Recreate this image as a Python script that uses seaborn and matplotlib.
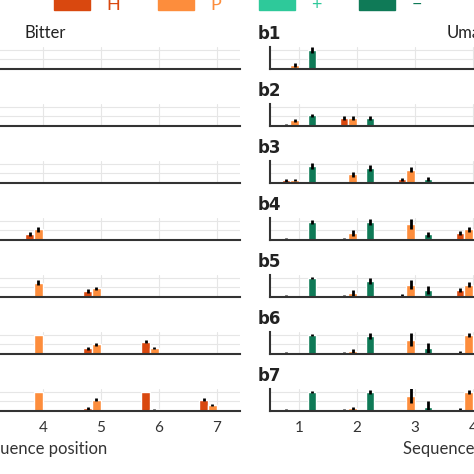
import numpy as np
import pandas as pd
import seaborn as sns
import matplotlib.pyplot as plt
from matplotlib.patches import Patch

sns.set_style("white")
plt.rcParams['font.family'] = ['Lato', 'DejaVu Sans']

types = ["H", "P", "+", "\u2212"]
colors = ["#d9480f", "#fd8d3c", "#2ec99a", "#0f7a57"]
positions = [1, 2, 3, 4, 5, 6, 7]
rows = ["b1", "b2", "b3", "b4", "b5", "b6", "b7"]

# bitter means [row][position][type]  (only positions 4..7 visible)
bitter_mean = {
    "b4": {4: [0.30, 0.55, 0, 0]},
    "b5": {4: [0.02, 0.75, 0, 0], 5: [0.30, 0.45, 0, 0.02]},
    "b6": {4: [0, 1.0, 0, 0], 5: [0.30, 0.50, 0, 0], 6: [0.65, 0.30, 0, 0]},
    "b7": {4: [0, 1.0, 0, 0], 5: [0.15, 0.60, 0, 0], 6: [1.0, 0.08, 0, 0], 7: [0.60, 0.30, 0, 0]},
}
bitter_err = {
    "b4": {4: [0.10, 0.12, 0, 0]},
    "b5": {4: [0.04, 0.12, 0, 0], 5: [0.10, 0.08, 0, 0.03]},
    "b6": {4: [0, 0, 0, 0], 5: [0.08, 0.08, 0, 0], 6: [0.08, 0.05, 0, 0]},
    "b7": {4: [0, 0, 0, 0], 5: [0.08, 0.10, 0, 0], 6: [0, 0.03, 0, 0], 7: [0.08, 0.05, 0, 0]},
}
umami_mean = {
    "b1": {1: [0, 0.22, 0, 1.0]},
    "b2": {1: [0.08, 0.30, 0, 0.55], 2: [0.40, 0.40, 0, 0.40]},
    "b3": {1: [0.15, 0.15, 0, 0.90], 2: [0, 0.45, 0, 0.80], 3: [0.20, 0.70, 0, 0.20]},
    "b4": {1: [0.08, 0.02, 0, 0.95], 2: [0.05, 0.35, 0, 0.95], 3: [0.02, 0.85, 0, 0.30], 4: [0.35, 0.55, 0, 0]},
    "b5": {1: [0.05, 0, 0, 1.0], 2: [0.05, 0.20, 0, 0.85], 3: [0.10, 0.65, 0, 0.35], 4: [0.35, 0.65, 0, 0]},
    "b6": {1: [0.05, 0, 0, 1.0], 2: [0.05, 0.15, 0, 0.95], 3: [0.02, 0.75, 0, 0.30], 4: [0.10, 1.0, 0, 0]},
    "b7": {1: [0.05, 0, 0, 1.0], 2: [0.05, 0.15, 0, 1.0], 3: [0.02, 0.80, 0, 0.20], 4: [0.10, 1.0, 0, 0]},
}
umami_err = {
    "b1": {1: [0, 0.10, 0, 0.15]},
    "b2": {1: [0.04, 0.08, 0, 0.10], 2: [0.10, 0.10, 0, 0.10]},
    "b3": {1: [0.08, 0.05, 0, 0.15], 2: [0, 0.15, 0, 0.15], 3: [0.08, 0.15, 0, 0.10]},
    "b4": {1: [0.04, 0.02, 0, 0.10], 2: [0.04, 0.15, 0, 0.15], 3: [0.02, 0.25, 0, 0.12], 4: [0.10, 0.15, 0, 0]},
    "b5": {1: [0.03, 0, 0, 0.05], 2: [0.03, 0.15, 0, 0.15], 3: [0.05, 0.25, 0, 0.20], 4: [0.10, 0.12, 0, 0]},
    "b6": {1: [0.03, 0, 0, 0.05], 2: [0.03, 0.10, 0, 0.15], 3: [0.02, 0.35, 0, 0.30], 4: [0.05, 0.10, 0, 0]},
    "b7": {1: [0.03, 0, 0, 0.05], 2: [0.03, 0.08, 0, 0.10], 3: [0.02, 0.40, 0, 0.30], 4: [0.05, 0.10, 0, 0]},
}


def make_df(mean, err, row):
    recs = []
    for p in positions:
        m = mean.get(row, {}).get(p, [0, 0, 0, 0])
        e = err.get(row, {}).get(p, [0, 0, 0, 0])
        for i, t in enumerate(types):
            recs.append(dict(pos=p, type=t, val=m[i], err=e[i]))
    return pd.DataFrame(recs)


W = H = 474
fig = plt.figure(figsize=(4.74, 4.74), dpi=100)
unit = 58
baselines = [69, 126, 183, 240, 297, 354, 411]
ax_h = 22
offsets = [-0.225, -0.075, 0.075, 0.225]


def draw(ax, df, show_left):
    sns.barplot(data=df, x="pos", y="val", hue="type", hue_order=types,
                palette=colors, width=0.6, errorbar=None, ax=ax, legend=False,
                saturation=1, order=positions)
    for i, t in enumerate(types):
        d = df[df.type == t]
        x = np.arange(len(positions)) + offsets[i]
        m = d.err.values > 0
        ax.errorbar(x[m], d.val.values[m], yerr=d.err.values[m], fmt="none",
                    ecolor="black", elinewidth=2, capsize=0)
    ax.set_xlim(-0.5, 6.4)
    ax.set_ylim(0, 1.15)
    ax.set_yticks([0, 0.5, 1])
    ax.set_yticklabels([])
    ax.set_xticks(range(len(positions)))
    ax.grid(True, color="#e6e6e6", lw=0.8)
    ax.set_axisbelow(True)
    for s in ["top", "right"]:
        ax.spines[s].set_visible(False)
    ax.spines["left"].set_visible(show_left)
    ax.spines["bottom"].set_linewidth(1.5)
    ax.spines["bottom"].set_color("#333333")
    ax.spines["left"].set_color("#333333")
    ax.spines["left"].set_linewidth(1.5)
    ax.tick_params(axis="both", direction="out", length=4, width=1.5, color="#333333",
                   labelsize=11, labelcolor="#333333")
    ax.set_xlabel("")
    ax.set_ylabel("")


for r, row in enumerate(rows):
    b = baselines[r]
    for col, (mean, err, left_px) in enumerate([(bitter_mean, bitter_err, 240 - 6.9 * unit),
                                                  (umami_mean, umami_err, 270)]):
        ax = fig.add_axes([left_px / W, 1 - b / H, 6.9 * unit / W, ax_h / H])
        draw(ax, make_df(mean, err, row), show_left=(col == 1))
        if r < 6:
            ax.set_xticklabels([])
        else:
            ax.set_xticklabels([str(p) for p in positions])
            ax.set_xlabel("Sequence position", fontsize=12, color="#333333", labelpad=4)
        if col == 1:
            ax.text(-0.03, 1.35, row, transform=ax.transAxes, fontsize=12,
                    fontweight="bold", color="#222222", family="DejaVu Sans")

fig.text(25 / W, 1 - 33 / H, "Bitter", fontsize=12, color="#222222", va="center")
fig.text(447 / W, 1 - 33 / H, "Umami", fontsize=12, color="#222222", va="center")

handles = [Patch(color=c) for c in colors]
leg = fig.legend(handles, types, ncol=4, loc="center", bbox_to_anchor=(0.502, 0.99),
                 frameon=False, fontsize=13, handlelength=2.0, handleheight=0.8,
                 columnspacing=2.1, handletextpad=0.9)
for t, c in zip(leg.get_texts(), colors):
    t.set_color(c)

fig.savefig("out.png", dpi=100)
